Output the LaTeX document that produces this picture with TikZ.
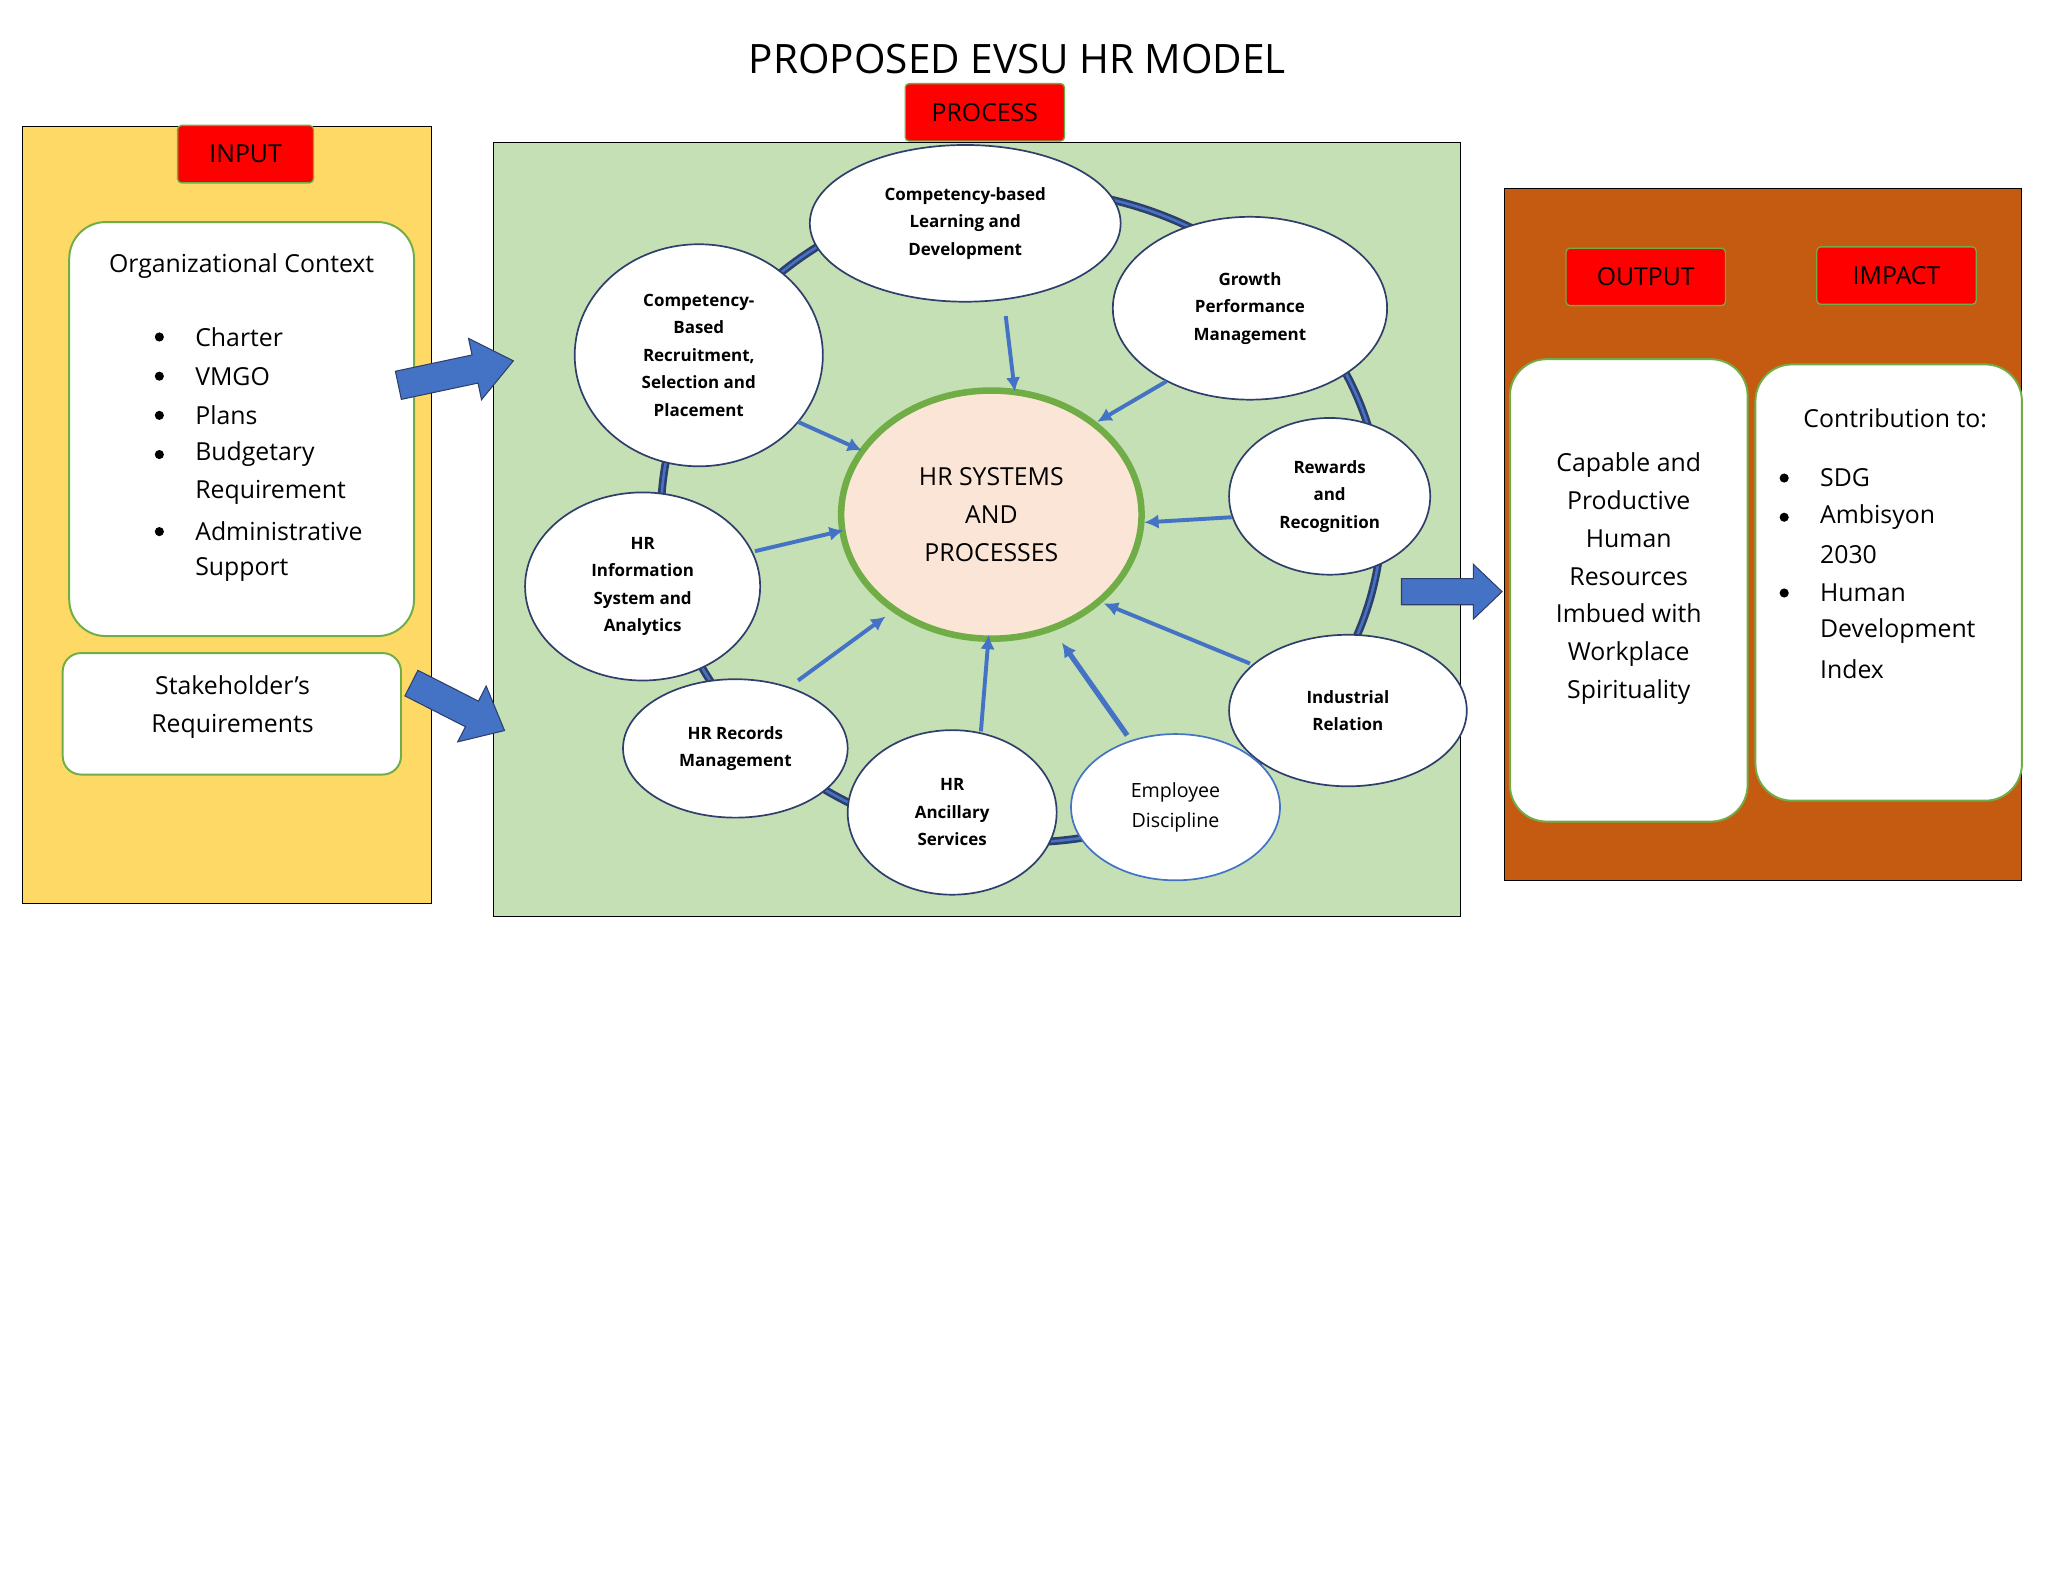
\documentclass[tikz,border=0pt]{standalone}
\usepackage{fontspec}
\setmainfont{Open Sans}
\usetikzlibrary{shapes.geometric,arrows.meta}
\definecolor{inY}{HTML}{FFD966}
\definecolor{prG}{HTML}{C5E0B4}
\definecolor{outO}{HTML}{C55A11}
\definecolor{ctr}{HTML}{FBE5D6}
\definecolor{bl}{HTML}{4472C4}
\definecolor{dbl}{HTML}{2F3F6B}
\definecolor{gb}{HTML}{70AD47}
\begin{document}
\begin{tikzpicture}[x=1pt,y=-1pt,
 lab/.style={draw=gb,line width=1pt,fill=red,rounded corners=3pt,minimum width=#1,minimum height=44pt,font=\fontsize{19}{22}\selectfont,inner sep=0},
 wbox/.style={draw=gb,line width=1.5pt,fill=white,rounded corners=28pt},
 ell/.style={ellipse,draw=dbl,line width=1.3pt,fill=white,align=center,font=\bfseries\fontsize{13}{21}\selectfont,inner sep=0},
 bt/.style={font=\fontsize{19}{24}\selectfont,anchor=west},
 dot/.style={circle,fill=black,inner sep=0,minimum size=7pt},
 fat/.style={fill=bl,draw=dbl,line width=0.8pt},
 sa/.style={draw=bl,line width=3pt,-{Latex[length=11pt,width=11pt]}}]
\useasboundingbox (0,0) rectangle (1568,1211);
\fill[white] (0,0) rectangle (1568,1211);
\node (title) at (779,45) {\fontsize{31}{36}\selectfont PROPOSED EVSU HR MODEL};
% input
\draw[fill=inY,line width=0.8pt] (17,97) rectangle (330,692);
\node[lab=104pt] (inlab) at (188,118) {INPUT};
\draw[wbox] (53,170) rectangle (317,487);
\node (oc) at (185,204) {\fontsize{19}{24}\selectfont Organizational Context};
\foreach \y [count=\i] in {258,288,318,348,407}{\node[dot] (b\i) at (122,\y) {};}
\node[bt] (l1) at (146,258) {Charter};
\node[bt] (l2) at (146,288) {VMGO};
\node[bt] (l3) at (146,318) {Plans};
\node[bt] (l4) at (146,348) {Budgetary};
\node[bt] (l5) at (146,377) {Requirement};
\node[bt] (l6) at (146,407) {Administrative};
\node[bt] (l7) at (146,436) {Support};
\draw[wbox,rounded corners=14pt] (48,500) rectangle (307,593);
\node[align=center,font=\fontsize{19}{29}\selectfont] (sr) at (178,541) {Stakeholder’s\\Requirements};
% process
\draw[fill=prG,line width=0.8pt] (378,109) rectangle (1118,702);
\node[lab=122pt] (prlab) at (754,86) {PROCESS};
\draw[dbl,line width=6pt] (782,395) ellipse [x radius=276,y radius=250];
\draw[bl,line width=2pt] (782,395) ellipse [x radius=276,y radius=250];
\node[ellipse,draw=gb,line width=5pt,fill=ctr,minimum width=230pt,minimum height=190pt,align=center,font=\fontsize{19}{29}\selectfont] (hr) at (759,394) {HR SYSTEMS\\AND\\PROCESSES};
\node[ell,minimum width=238pt,minimum height=120pt] (cbld) at (739,171) {Competency-based\\Learning and\\Development};
\node[ell,minimum width=210pt,minimum height=140pt] (gpm) at (957,236) {Growth\\Performance\\Management};
\node[ell,minimum width=190pt,minimum height=170pt] (cbr) at (535,272) {Competency-\\Based\\Recruitment,\\Selection and\\Placement};
\node[ell,minimum width=154pt,minimum height=120pt] (rr) at (1018,380) {Rewards\\and\\Recognition};
\node[ell,minimum width=180pt,minimum height=144pt] (his) at (492,449) {HR\\Information\\System and\\Analytics};
\node[ell,minimum width=182pt,minimum height=116pt] (ir) at (1032,544) {Industrial\\Relation};
\node[ell,minimum width=172pt,minimum height=106pt] (rec) at (563,573) {HR Records\\Management};
\node[ell,minimum width=160pt,minimum height=126pt] (anc) at (729,622) {HR\\Ancillary\\Services};
\node[ell,draw=bl,font=\fontsize{15}{23}\selectfont,minimum width=160pt,minimum height=112pt] (ed) at (900,618) {Employee\\Discipline};
\draw[sa] (770,242) -- (777,300);
\draw[sa] (893,292) -- (840,323);
\draw[sa] (611,323) -- (660,345);
\draw[sa] (943,396) -- (876,400);
\draw[sa] (578,422) -- (646,406);
\draw[sa] (957,508) -- (845,462);
\draw[sa] (611,521) -- (678,472);
\draw[sa] (751,560) -- (757,486);
\draw[sa,line width=4pt] (863,563) -- (813,492);
% output
\draw[fill=outO,line width=0.8pt] (1152,144) rectangle (1548,674);
\node[lab=122pt] (outlab) at (1260,212) {OUTPUT};
\node[lab=122pt] (implab) at (1452,211) {IMPACT};
\draw[wbox] (1156,275) rectangle (1338,629);
\draw[wbox] (1344,279) rectangle (1548,613);
\node[align=center,font=\fontsize{19}{29}\selectfont] (outt) at (1247,443) {Capable and\\Productive\\Human\\Resources\\Imbued with\\Workplace\\Spirituality};
\node (ct) at (1451,320) {\fontsize{19}{24}\selectfont Contribution to:};
\foreach \y/\n in {366/p1,396/p2,454/p3}{\node[dot] (\n) at (1366,\y) {};}
\node[bt] (m1) at (1390,366) {SDG};
\node[bt] (m2) at (1390,396) {Ambisyon};
\node[bt] (m3) at (1390,425) {2030};
\node[bt] (m4) at (1390,454) {Human};
\node[bt] (m5) at (1390,483) {Development};
\node[bt] (m6) at (1390,512) {Index};
% fat arrows
\draw[fat,shift={(305,295)},rotate=12] (0,-11) -- (60,-11) -- (60,-24) -- (90,0) -- (60,24) -- (60,11) -- (0,11) -- cycle;
\draw[fat,shift={(315,523)},rotate=-27] (0,-11) -- (52,-11) -- (52,-24) -- (80,0) -- (52,24) -- (52,11) -- (0,11) -- cycle;
\draw[fat,shift={(1073,453)}] (0,-10) -- (55,-10) -- (55,-21) -- (77,0) -- (55,21) -- (55,10) -- (0,10) -- cycle;
\end{tikzpicture}
\end{document}
